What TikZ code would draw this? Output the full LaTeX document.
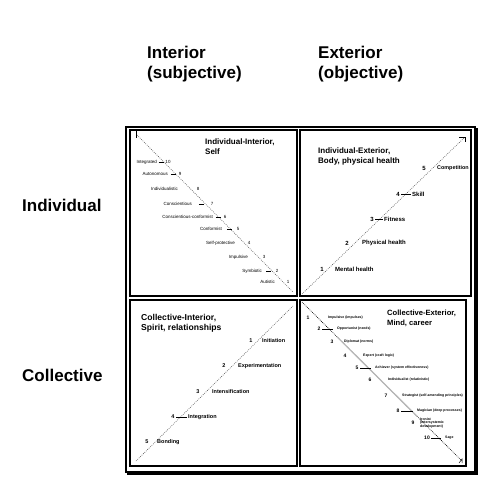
\documentclass[tikz,border=0pt]{standalone}
\usepackage{fontspec}
\setmainfont{Liberation Sans}
\usetikzlibrary{positioning, calc}

\begin{document}
\begin{tikzpicture}[x=1pt, y=-1pt,
    head/.style={font=\fontsize{17}{20}\selectfont\bfseries, align=left, inner sep=0pt},
    qbox/.style={draw, line width=1.6pt},
    qtitle/.style={font=\fontsize{8}{10}\selectfont\bfseries, align=left, inner sep=0pt, anchor=north west},
    diag/.style={draw=black!65, line width=0.6pt, dash pattern=on 0.8pt off 1.2pt},
    tick/.style={draw, line width=0.35pt},
    ulnum/.style={font=\fontsize{4.5}{5}\selectfont, inner sep=0pt},
    ullab/.style={ulnum, anchor=east},
    urnum/.style={font=\fontsize{6}{7}\selectfont\bfseries, inner sep=0pt},
    urlab/.style={urnum, anchor=west},
    llnum/.style={font=\fontsize{5.5}{6}\selectfont\bfseries, inner sep=0pt},
    lllab/.style={llnum, anchor=west},
    lrnum/.style={font=\fontsize{5}{6}\selectfont\bfseries, inner sep=0pt},
    lrlab/.style={font=\fontsize{3.5}{3.8}\selectfont\bfseries, align=left, inner sep=0pt, anchor=west}]

    \useasboundingbox (0,0) rectangle (479,479);

    % headings
    \node[head, anchor=north west] (hint) at (147,46) {Interior\\(subjective)};
    \node[head, anchor=north west] (hext) at (318,46) {Exterior\\(objective)};
    \node[head, anchor=base west] (hind) at (22,211) {Individual};
    \node[head, anchor=base west] (hcol) at (22,381) {Collective};

    % frame and quadrants
    \coordinate (fa) at (126,127);
    \coordinate (fb) at (475,472);
    \draw[line width=2pt] (fa) rectangle (fb);
    \draw[line width=3pt] (fa |- fb) ++(1,1) -- ($(fb)+(1,1)$) -- ($(fb -| fa)+(350,-344)$);
    \draw[qbox] (130,130) rectangle (297,296);
    \draw[qbox] (300,130) rectangle (471,296);
    \draw[qbox] (130,300) rectangle (297,466);
    \draw[qbox] (300,300) rectangle (466,466);

    % diagonals
    \coordinate (ula) at (137,135);
    \coordinate (ulb) at (293,292);
    \coordinate (ura) at (302,294);
    \coordinate (urb) at (464,138);
    \coordinate (lla) at (136,461);
    \coordinate (llb) at (293,306);
    \coordinate (lra) at (302,302);
    \coordinate (lrb) at (462,461);
    \draw[diag] (ula) -- (ulb);
    \draw[line width=0.5pt] (ula) ++(-1,-4) -- ++(0,7);
    \draw[diag] (ura) -- (urb);
    \draw[line width=0.5pt] (urb) ++(-5,-1) -- ++(6,0) -- ++(0,5);
    \draw[diag] (lla) -- (llb);
    \draw[line width=0.6pt, dash pattern=on 0.8pt off 1pt] (lra) -- (lrb);
    \draw[gray!55, line width=1.3pt] ($(lra)!0.22!(lrb)$) -- ($(lra)!0.72!(lrb)$);
    \draw[line width=0.5pt] (lrb) ++(-3,2) -- ++(3,-4) -- ++(0,4);

    % upper left: Individual-Interior
    \node[qtitle] (tul) at (205,139) {Individual-Interior,\\Self};
    \node[ullab] (ul10) at (157,162) {Integrated};
    \node[ulnum] (nul10) at (168,162) {10};
    \node[ullab] (ul9) at (168,174) {Autonomous};
    \node[ulnum] (nul9) at (180,174) {9};
    \node[ullab] (ul8) at (178,189) {Individualistic};
    \node[ulnum] (nul8) at (198,189) {8};
    \node[ullab] (ul7) at (192,204) {Conscientious};
    \node[ulnum] (nul7) at (212,204) {7};
    \node[ullab] (ul6) at (213,217) {Conscientious-conformist};
    \node[ulnum] (nul6) at (225,217) {6};
    \node[ullab] (ul5) at (222,229) {Conformist};
    \node[ulnum] (nul5) at (238,229) {5};
    \node[ullab] (ul4) at (235,243) {Self-protective};
    \node[ulnum] (nul4) at (249,243) {4};
    \node[ullab] (ul3) at (248,257) {Impulsive};
    \node[ulnum] (nul3) at (264,257) {3};
    \node[ullab] (ul2) at (262,271) {Symbiotic};
    \node[ulnum] (nul2) at (277,271) {2};
    \node[ullab] (ul1) at (275,282) {Autistic};
    \node[ulnum] (nul1) at (288,282) {1};
    \foreach \i in {10,9,7,6,5,2}
        \draw[tick] ($(ul\i.east)!0.5!(nul\i.west)$) +(-2.5,0) -- +(2.5,0);

    % upper right: Individual-Exterior
    \node[qtitle] (tur) at (318,148) {Individual-Exterior,\\Body, physical health};
    \node[urnum] (nur5) at (424,168) {5};
    \node[urlab, font=\fontsize{5.4}{6}\selectfont\bfseries] (ur5) at (437,168) {Competition};
    \node[urnum] (nur4) at (398,194) {4};
    \node[urlab] (ur4) at (412,194) {Skill};
    \node[urnum] (nur3) at (372,219) {3};
    \node[urlab] (ur3) at (384,219) {Fitness};
    \node[urnum] (nur2) at (347,243) {2};
    \node[urlab] (ur2) at (362,243) {Physical health};
    \node[urnum] (nur1) at (322,269) {1};
    \node[urlab] (ur1) at (335,269) {Mental health};
    \draw[tick] (nur4.east) ++(1.5,0) -- ([xshift=-1.5pt]ur4.west);
    \draw[tick] (nur3.east) ++(1.5,0) -- ([xshift=-1.5pt]ur3.west);

    % lower left: Collective-Interior
    \node[qtitle, font=\fontsize{8.6}{10}\selectfont\bfseries] (tll) at (141,314) {Collective-Interior,\\Spirit, relationships};
    \node[llnum] (nll1) at (251,341) {1};
    \node[lllab] (ll1) at (262,341) {Initiation};
    \node[llnum] (nll2) at (224,366) {2};
    \node[lllab] (ll2) at (238,366) {Experimentation};
    \node[llnum] (nll3) at (198,392) {3};
    \node[lllab] (ll3) at (212,392) {Intensification};
    \node[llnum] (nll4) at (173,417) {4};
    \node[lllab] (ll4) at (188,417) {Integration};
    \node[llnum] (nll5) at (147,442) {5};
    \node[lllab] (ll5) at (157,442) {Bonding};
    \draw[tick] (nll4.east) ++(1.5,0) -- ([xshift=-1pt]ll4.west);

    % lower right: Collective-Exterior
    \node[qtitle, font=\fontsize{7.6}{9.5}\selectfont\bfseries] (tlr) at (387,310) {Collective-Exterior,\\Mind, career};
    \node[lrnum] (nlr1) at (308,318) {1};
    \node[lrlab] (lr1) at (328,318) {Impulsive (impulses)};
    \node[lrnum] (nlr2) at (319,329) {2};
    \node[lrlab] (lr2) at (337,329) {Opportunist (needs)};
    \node[lrnum] (nlr3) at (332,342) {3};
    \node[lrlab] (lr3) at (344,342) {Diplomat (norms)};
    \node[lrnum] (nlr4) at (345,356) {4};
    \node[lrlab] (lr4) at (363,356) {Expert (craft logic)};
    \node[lrnum] (nlr5) at (357,368) {5};
    \node[lrlab] (lr5) at (375,368) {Achiever (system effectiveness)};
    \node[lrnum] (nlr6) at (370,380) {6};
    \node[lrlab] (lr6) at (388,380) {Individualist (relativistic)};
    \node[lrnum] (nlr7) at (386,396) {7};
    \node[lrlab] (lr7) at (402,396) {Strategist (self-amending principles)};
    \node[lrnum] (nlr8) at (398,411) {8};
    \node[lrlab] (lr8) at (417,411) {Magician (deep processes)};
    \node[lrnum] (nlr9) at (413,423) {9};
    \node[lrlab] (lr9) at (420,423) {Ironist\\(intersystemic\\development)};
    \node[lrnum] (nlr10) at (427,438) {10};
    \node[lrlab] (lr10) at (445,438) {Sage};
    \foreach \i in {2,5,8,10}
        \draw[tick] (nlr\i.east) ++(1.5,0) -- ([xshift=-4pt]lr\i.west);
\end{tikzpicture}
\end{document}
